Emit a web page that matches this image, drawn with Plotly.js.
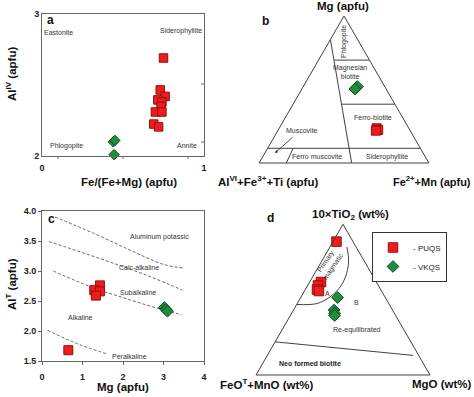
<!DOCTYPE html>
<html><head><meta charset="utf-8">
<script src="https://cdn.plot.ly/plotly-3.0.1.min.js"></script>
<style>html,body{margin:0;padding:0;background:#fff}#chart{width:474px;height:397px}</style>
</head><body><div id="chart"></div>
<script>
// ---------- Panel a : AlIV vs Fe/(Fe+Mg) ----------
const a_puqs_x = [0.75, 0.73, 0.76, 0.715, 0.74, 0.735, 0.70, 0.74, 0.69, 0.72];
const a_puqs_y = [2.69, 2.465, 2.42, 2.395, 2.38, 2.35, 2.31, 2.31, 2.225, 2.205];
const a_vkqs_x = [0.44, 0.45, 0.445];
const a_vkqs_y = [2.10, 2.11, 2.01];
const a_labels = ["Eastonite", "Siderophyllite", "Phlogopite", "Annite"];
const a_label_x = [0.10, 0.86, 0.15, 0.895];
const a_label_y = [2.87, 2.88, 2.07, 2.075];

// ---------- Panel b : ternary Mg / AlVI+Fe3++Ti / Fe2++Mn ----------
const b_puqs_mg = [0.236, 0.225, 0.220];
const b_puqs_al = [0.190, 0.186, 0.202];
const b_puqs_fe = [0.574, 0.589, 0.578];
const b_vkqs_mg = [0.512, 0.520, 0.503];
const b_vkqs_al = [0.173, 0.161, 0.184];
const b_vkqs_fe = [0.315, 0.319, 0.313];
// field boundaries (Mg, Al, Fe)
const b_lines = [
  {mg: [0.84, 0.00], al: [0.16, 0.455], fe: [0.00, 0.545]},
  {mg: [0.70, 0.70], al: [0.209, 0.00], fe: [0.091, 0.30]},
  {mg: [0.40, 0.40], al: [0.314, 0.00], fe: [0.286, 0.60]},
  {mg: [0.10, 0.10], al: [0.90, 0.00], fe: [0.00, 0.90]},
  {mg: [0.10, 0.00], al: [0.75, 0.84], fe: [0.15, 0.16]}
];

// ---------- Panel c : AlT vs Mg ----------
const c_puqs_x = [1.43, 1.29, 1.43, 1.33, 0.65];
const c_puqs_y = [2.76, 2.68, 2.66, 2.59, 1.68];
const c_vkqs_x = [3.02, 3.06, 3.10];
const c_vkqs_y = [2.39, 2.36, 2.33];
const c_curves = [
  {x: [0.32, 1.27, 2.17, 3.00, 3.49], y: [3.90, 3.63, 3.35, 3.11, 3.05]},
  {x: [0.17, 0.94, 1.76, 2.58, 3.16, 3.47], y: [3.49, 3.32, 3.13, 2.93, 2.77, 2.68]},
  {x: [0.28, 1.19, 2.17, 3.00, 3.45], y: [3.00, 2.74, 2.52, 2.35, 2.27]},
  {x: [0.14, 0.94, 1.60], y: [2.01, 1.77, 1.62]}
];
const c_labels = ["Aluminum potassic", "Calc-alkaline", "Subalkaline", "Alkaline", "Peralkaline"];
const c_label_x = [2.91, 2.40, 2.38, 0.95, 2.16];
const c_label_y = [3.57, 3.055, 2.64, 2.23, 1.57];

// ---------- Panel d : ternary 10xTiO2 / FeOT+MnO / MgO ----------
const d_puqs_ti = [0.885, 0.617, 0.594, 0.567, 0.557];
const d_puqs_fe = [0.095, 0.318, 0.347, 0.366, 0.360];
const d_puqs_mg = [0.020, 0.065, 0.059, 0.067, 0.083];
const d_vkqs_ti = [0.514, 0.431, 0.410, 0.395];
const d_vkqs_fe = [0.274, 0.336, 0.343, 0.351];
const d_vkqs_mg = [0.212, 0.233, 0.247, 0.254];
const d_arc = {ti: [0.849, 0.75, 0.65, 0.574, 0.518, 0.474, 0.468],
               fe: [0.053, 0.093, 0.161, 0.236, 0.316, 0.413, 0.532],
               mg: [0.098, 0.157, 0.189, 0.190, 0.166, 0.113, 0.000]};
const d_neo = {ti: [0.22, 0.13], fe: [0.78, 0.032], mg: [0.00, 0.838]};

// ---------- styling ----------
const FONT = "Liberation Sans, Arial, sans-serif";
const W = 474, H = 397;
const PX = p => p / W, PY = p => 1 - p / H;
const RED = "#ee1d1d", REDL = "#9a0c0c", GRN = "#1f8e3c", GRNL = "#0c4a1c";
const LINEC = "#404040";
const sq = s => ({symbol: "square", size: s, color: RED, line: {color: REDL, width: 1}});
const dm = s => ({symbol: "diamond", size: s, color: GRN, line: {color: GRNL, width: 1}});

const traces = [];
// panel a
traces.push({type: "scatter", mode: "markers", x: a_puqs_x, y: a_puqs_y, xaxis: "x", yaxis: "y",
  marker: sq(8.5), showlegend: false, cliponaxis: false, name: "PUQS"});
traces.push({type: "scatter", mode: "markers", x: a_vkqs_x, y: a_vkqs_y, xaxis: "x", yaxis: "y",
  marker: dm(8), showlegend: false, cliponaxis: false, name: "VKQS"});
// panel c
c_curves.forEach(cv => traces.push({type: "scatter", mode: "lines", x: cv.x, y: cv.y, xaxis: "x2", yaxis: "y2",
  line: {color: "#666", width: 1, dash: "3px,2px", shape: "spline"}, showlegend: false, hoverinfo: "skip"}));
traces.push({type: "scatter", mode: "markers", x: c_puqs_x, y: c_puqs_y, xaxis: "x2", yaxis: "y2",
  marker: sq(9), showlegend: false, name: "PUQS"});
traces.push({type: "scatter", mode: "markers", x: c_vkqs_x, y: c_vkqs_y, xaxis: "x2", yaxis: "y2",
  marker: dm(9), showlegend: false, name: "VKQS"});
// panel b
b_lines.forEach(l => traces.push({type: "scatterternary", subplot: "ternary", mode: "lines",
  a: l.mg, b: l.al, c: l.fe, line: {color: LINEC, width: 1}, showlegend: false, hoverinfo: "skip"}));
traces.push({type: "scatterternary", subplot: "ternary", mode: "markers", a: b_puqs_mg, b: b_puqs_al, c: b_puqs_fe,
  marker: sq(9), showlegend: false, name: "PUQS"});
traces.push({type: "scatterternary", subplot: "ternary", mode: "markers", a: b_vkqs_mg, b: b_vkqs_al, c: b_vkqs_fe,
  marker: dm(9), showlegend: false, name: "VKQS"});
// panel d
traces.push({type: "scatterternary", subplot: "ternary2", mode: "lines", a: d_arc.ti, b: d_arc.fe, c: d_arc.mg,
  line: {color: LINEC, width: 1, shape: "spline"}, showlegend: false, hoverinfo: "skip"});
traces.push({type: "scatterternary", subplot: "ternary2", mode: "lines", a: d_neo.ti, b: d_neo.fe, c: d_neo.mg,
  line: {color: LINEC, width: 1}, showlegend: false, hoverinfo: "skip"});
traces.push({type: "scatterternary", subplot: "ternary2", mode: "markers", a: d_puqs_ti, b: d_puqs_fe, c: d_puqs_mg,
  marker: sq(9.5), showlegend: true, name: "- PUQS", cliponaxis: false});
traces.push({type: "scatterternary", subplot: "ternary2", mode: "markers", a: d_vkqs_ti, b: d_vkqs_fe, c: d_vkqs_mg,
  marker: dm(9), showlegend: true, name: "- VKQS", cliponaxis: false});

const tAxis = {showgrid: false, showticklabels: false, ticks: "", showline: true, linecolor: LINEC,
  linewidth: 1, title: {text: ""}, min: 0};
const tickF = {family: FONT, size: 9, color: "#222", weight: "bold"};
const frame = {showline: true, mirror: true, linecolor: "#666", linewidth: 1, zeroline: false, showgrid: false};

const ann = [];
const txt = (text, x, y, o) => ann.push(Object.assign({text, x, y, xref: "paper", yref: "paper",
  showarrow: false, xanchor: "center", yanchor: "middle",
  font: {family: FONT, size: 7, color: "#333"}}, o || {}));
const bold = (s, c) => ({family: FONT, size: s, color: c || "#111", weight: "bold"});

// panel letters
txt("a", PX(50), PY(20), {font: bold(12)});
txt("b", PX(265), PY(21), {font: bold(12)});
txt("c", PX(51), PY(219), {font: bold(12)});
txt("d", PX(270), PY(218), {font: bold(12)});
// axis titles
txt("Al<sup>IV</sup> (apfu)", PX(11), PY(74), {textangle: -90, font: bold(11.5)});
txt("Fe/(Fe+Mg) (apfu)", PX(129), PY(182), {font: bold(11.5)});
txt("Al<sup>T</sup> (apfu)", PX(11), PY(284), {textangle: -90, font: bold(11.5)});
txt("Mg (apfu)", PX(123), PY(387), {font: bold(11.5)});
txt("Mg (apfu)", PX(343), PY(6), {font: bold(11.5)});
txt("Al<sup>VI</sup>+Fe<sup>3+</sup>+Ti (apfu)", PX(268), PY(181), {font: bold(11.5)});
txt("Fe<sup>2+</sup>+Mn (apfu)", PX(473), PY(181), {font: bold(11), xanchor: "right"});
txt("10×TiO<sub>2</sub> (wt%)", PX(350), PY(215), {font: bold(11.5)});
txt("FeO<sup>T</sup>+MnO (wt%)", PX(267), PY(384), {font: bold(11.5)});
txt("MgO (wt%)", PX(442), PY(384), {font: bold(11.5)});
// panel a labels
a_labels.forEach((t, i) => ann.push({text: t, x: a_label_x[i], y: a_label_y[i], xref: "x", yref: "y",
  showarrow: false, font: {family: FONT, size: 7, color: "#333"}}));
// panel c labels
c_labels.forEach((t, i) => ann.push({text: t, x: c_label_x[i], y: c_label_y[i], xref: "x2", yref: "y2",
  showarrow: false, font: {family: FONT, size: 7, color: "#333"}}));
// panel b labels
txt("Phlogopite", PX(344), PY(42), {textangle: -90});
txt("Magnesian<br>biotite", PX(350), PY(72));
txt("Ferro-biotite", PX(373), PY(117));
txt("Muscovite", PX(302), PY(130));
txt("Ferro muscovite", PX(317), PY(156.5));
txt("Siderophyllite", PX(387), PY(156.5));
ann.push({text: "", x: PX(275), y: PY(153), xref: "paper", yref: "paper", showarrow: true,
  ax: 19, ay: -17, arrowhead: 2, arrowsize: 0.7, arrowwidth: 0.8, arrowcolor: "#222", standoff: 0});
// panel d labels
txt("Primary<br>magmatic", PX(329), PY(264), {textangle: -56});
txt("A", PX(327), PY(293));
txt("B", PX(356), PY(302));
txt("Re-equilibrated", PX(357), PY(330));
txt("Neo formed biotite", PX(310), PY(363), {font: bold(7, "#222")});

// small inner ticks of panel a
const shapes = [];
[58, 123, 188].forEach(x => shapes.push({type: "line", xref: "paper", yref: "paper",
  x0: PX(x), x1: PX(x), y0: PY(156), y1: PY(159), line: {color: "#666", width: 1}}));
[84, 142].forEach(y => shapes.push({type: "line", xref: "paper", yref: "paper",
  x0: PX(204), x1: PX(201), y0: PY(y), y1: PY(y), line: {color: "#666", width: 1}}));

const layout = {
  width: W, height: H, margin: {l: 0, r: 0, t: 0, b: 0},
  paper_bgcolor: "#fff", plot_bgcolor: "#fff",
  font: {family: FONT, color: "#222"},
  xaxis: Object.assign({domain: [PX(42), PX(204)], range: [0, 1], tickvals: [0, 1], ticks: "",
    tickfont: tickF, ticklabelstandoff: 3, anchor: "y"}, frame),
  yaxis: Object.assign({domain: [PY(156), PY(14)], range: [2, 3], tickvals: [2, 3], ticks: "",
    tickfont: tickF, anchor: "x"}, frame),
  xaxis2: Object.assign({domain: [PX(42), PX(204)], range: [0, 4], dtick: 1, ticks: "outside", ticklen: 3,
    tickcolor: "#666", tickfont: tickF, ticklabelstandoff: 4, anchor: "y2"}, frame),
  yaxis2: Object.assign({domain: [PY(361), PY(211)], range: [1.5, 4], dtick: 0.5, tickformat: ".1f",
    ticks: "outside", ticklen: 3, tickcolor: "#666", tickfont: tickF, anchor: "x2"}, frame),
  ternary: {domain: {x: [PX(259), PX(429)], y: [PY(163), PY(16)]}, sum: 1, bgcolor: "rgba(0,0,0,0)",
    aaxis: tAxis, baxis: tAxis, caxis: tAxis},
  ternary2: {domain: {x: [PX(256), PX(430)], y: [PY(375), PY(224.3)]}, sum: 1, bgcolor: "rgba(0,0,0,0)",
    aaxis: tAxis, baxis: tAxis, caxis: tAxis},
  showlegend: true,
  legend: {x: PX(372), y: PY(232), xanchor: "left", yanchor: "top", bgcolor: "#fff",
    bordercolor: "#333", borderwidth: 1, font: {family: FONT, size: 8, color: "#222"},
    itemwidth: 30, tracegroupgap: 0},
  annotations: ann, shapes: shapes
};
Plotly.newPlot("chart", traces, layout, {displayModeBar: false, staticPlot: true});
</script></body></html>
